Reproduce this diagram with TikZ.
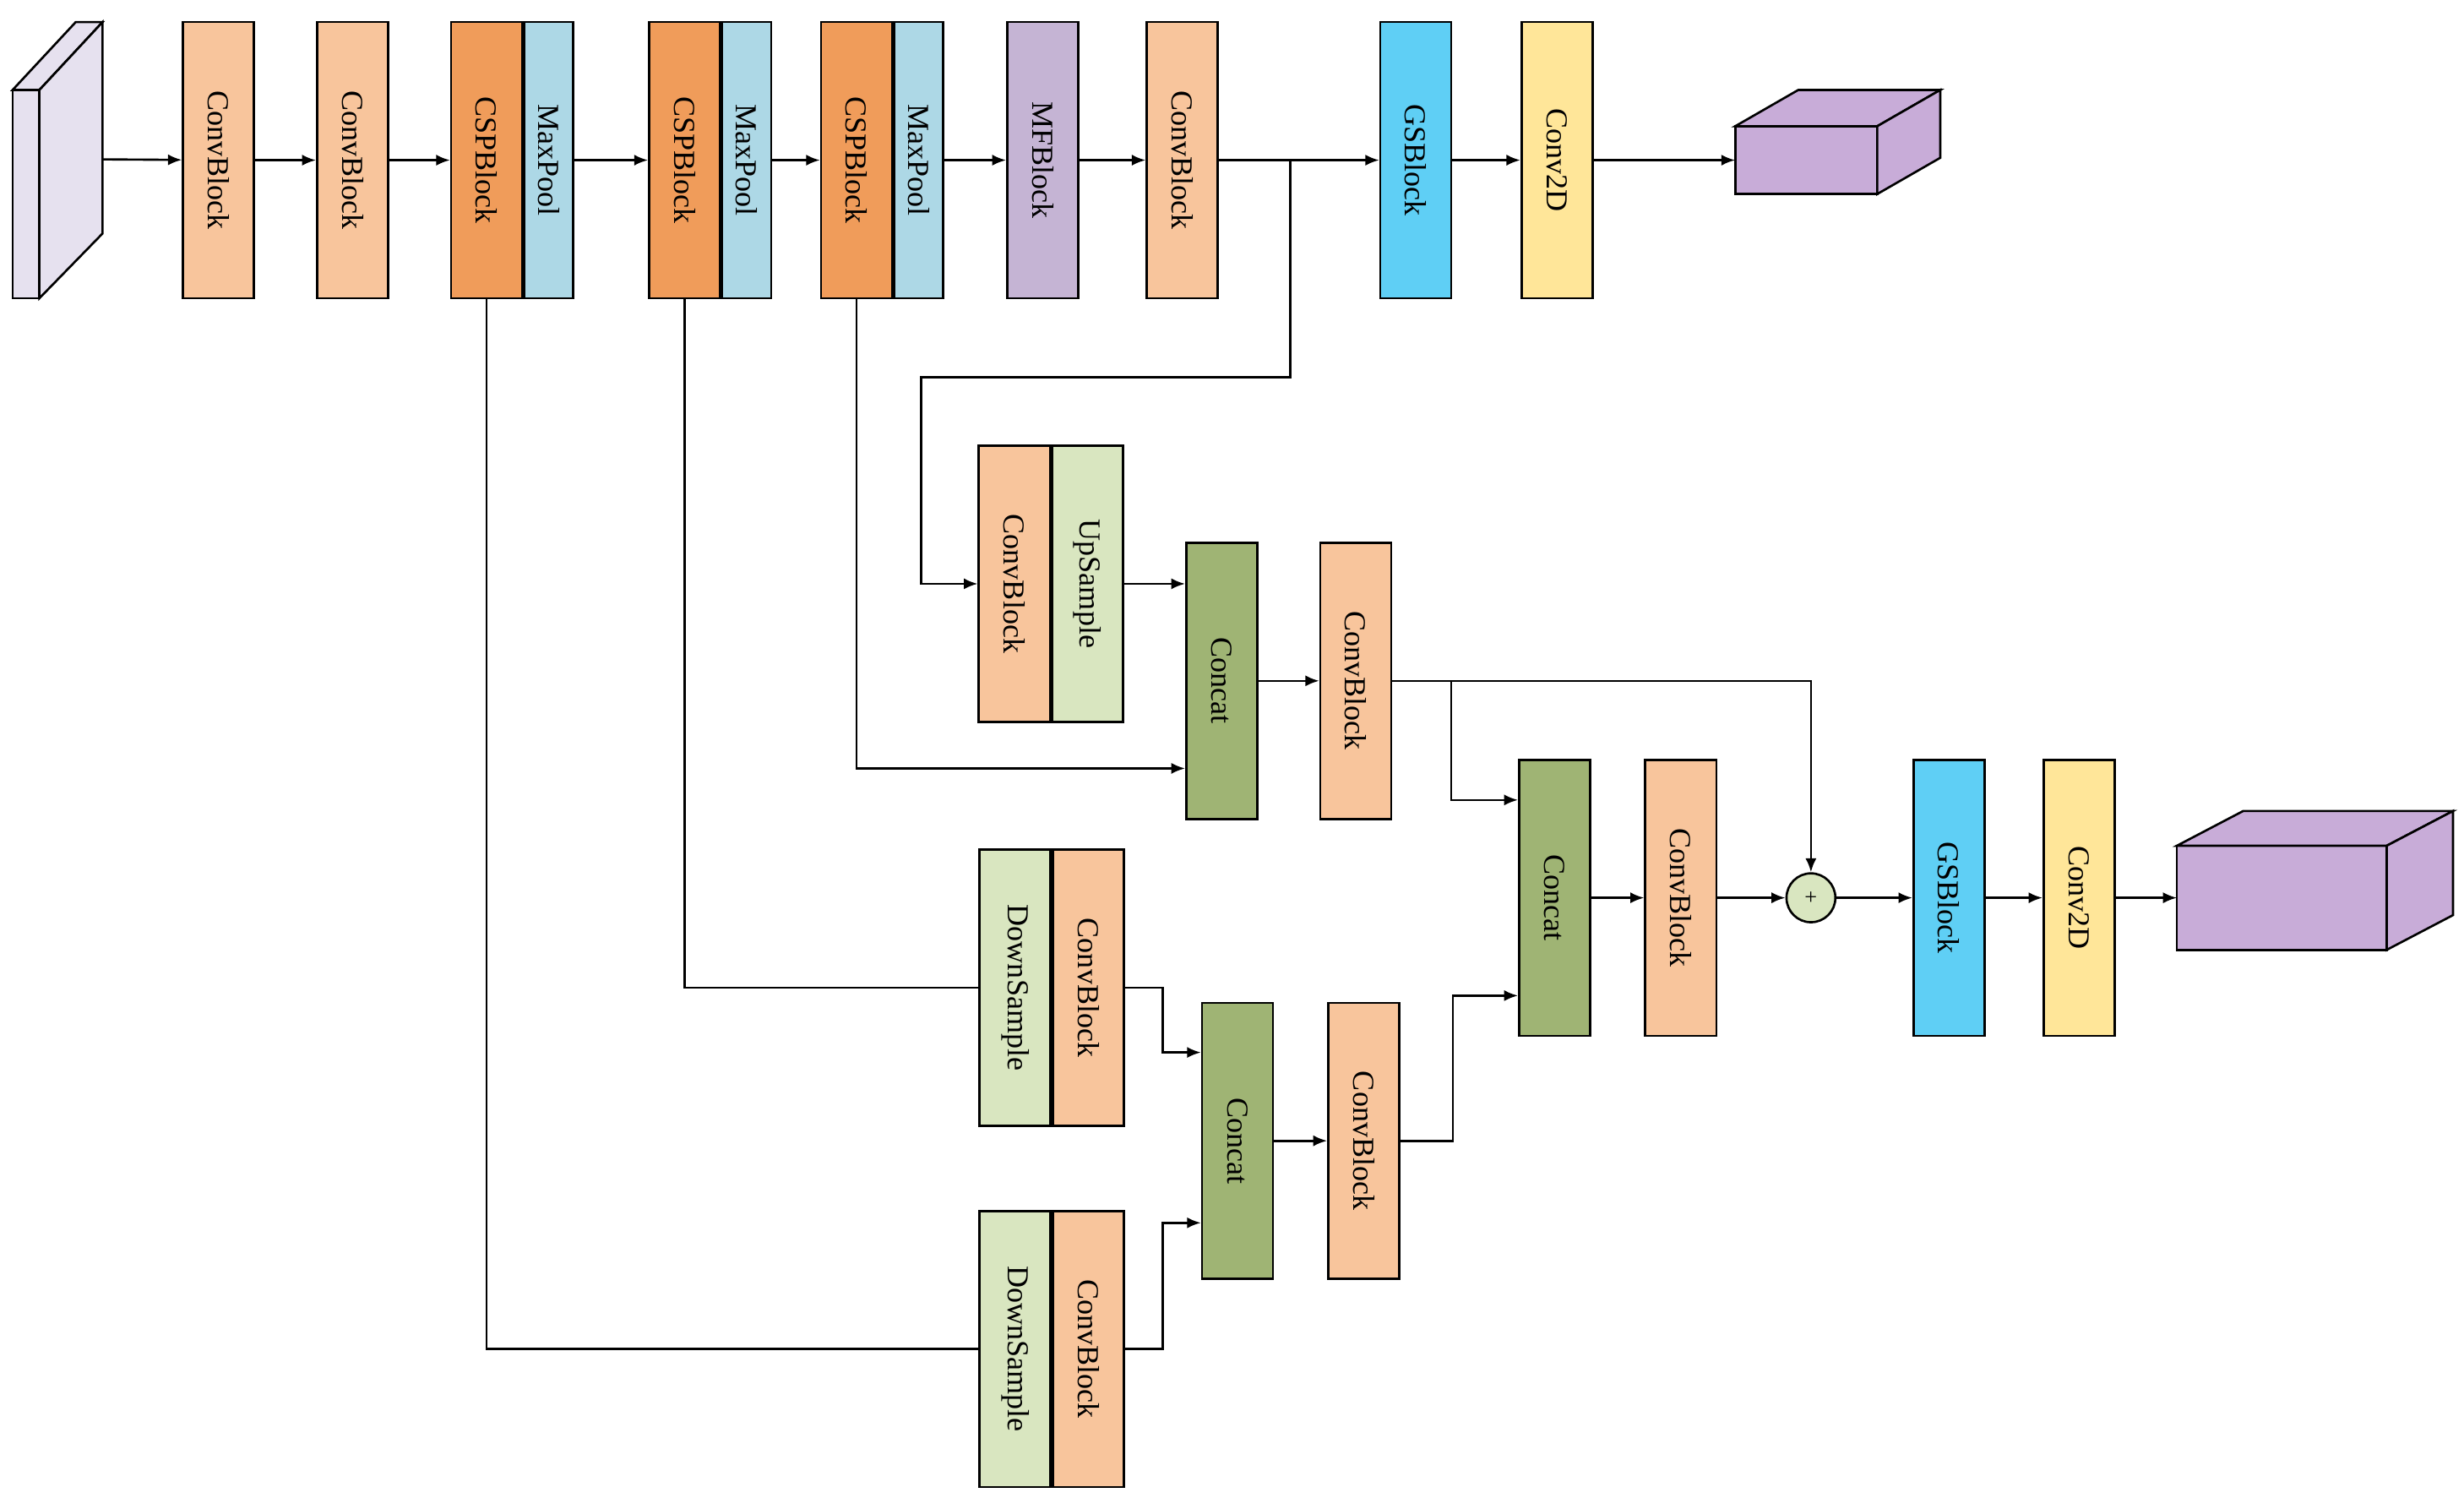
\documentclass[tikz,border=0pt]{standalone}
\usepackage{fontspec}
\setmainfont{Liberation Serif}
\usetikzlibrary{arrows.meta}
\definecolor{cpeach}{HTML}{F8C59C}
\definecolor{corange}{HTML}{F09C5A}
\definecolor{cblue}{HTML}{ADD8E6}
\definecolor{cmf}{HTML}{C5B4D4}
\definecolor{cgs}{HTML}{5FCFF5}
\definecolor{cyel}{HTML}{FFE699}
\definecolor{clgreen}{HTML}{D9E6C0}
\definecolor{ccat}{HTML}{9FB474}
\definecolor{cout}{HTML}{C8ACD8}
\definecolor{cin}{HTML}{E6E1EF}
\begin{document}
\begin{tikzpicture}[x=0.02cm,y=-0.02cm,
  blk/.style={draw,line width=0.8pt,minimum width=0.9cm,minimum height=3.5cm,inner sep=0pt,font=\fontsize{11}{13}\selectfont},
  nar/.style={blk,minimum width=0.62cm},
  arr/.style={-{Latex[length=5pt,width=4pt]},line width=0.8pt},
  ln/.style={line width=0.8pt}]
\useasboundingbox (0,0) rectangle (1562,956);
% input slab
\draw[ln,fill=cin] (8,57) -- (25,57) -- (25,189) -- (8,189) -- cycle;
\draw[ln,fill=cin] (8,57) -- (48,14) -- (65,14) -- (25,57) -- cycle;
\draw[ln,fill=cin] (25,57) -- (65,14) -- (65,148) -- (25,189) -- cycle;
\coordinate (in) at (65,101);
% top row
\node[blk,fill=cpeach] (c1) at (138.5,101.5) {\rotatebox{-90}{ConvBlock}};
\node[blk,fill=cpeach] (c2) at (223.5,101.5) {\rotatebox{-90}{ConvBlock}};
\node[blk,fill=corange] (s1) at (308.5,101.5) {\rotatebox{-90}{CSPBlock}};
\node[nar,fill=cblue,anchor=west] (m1) at (s1.east) {\rotatebox{-90}{MaxPool}};
\node[blk,fill=corange] (s2) at (434,101.5) {\rotatebox{-90}{CSPBlock}};
\node[nar,fill=cblue,anchor=west] (m2) at (s2.east) {\rotatebox{-90}{MaxPool}};
\node[blk,fill=corange] (s3) at (543,101.5) {\rotatebox{-90}{CSPBlock}};
\node[nar,fill=cblue,anchor=west] (m3) at (s3.east) {\rotatebox{-90}{MaxPool}};
\node[blk,fill=cmf] (mf) at (661,101.5) {\rotatebox{-90}{MFBlock}};
\node[blk,fill=cpeach] (c3) at (749.5,101.5) {\rotatebox{-90}{ConvBlock}};
\node[blk,fill=cgs] (g1) at (897.5,101.5) {\rotatebox{-90}{GSBlock}};
\node[blk,fill=cyel] (d1) at (987,101.5) {\rotatebox{-90}{Conv2D}};
% output 1
\draw[ln,fill=cout] (1100,80) rectangle (1190,123);
\draw[ln,fill=cout] (1100,80) -- (1140,57) -- (1230,57) -- (1190,80) -- cycle;
\draw[ln,fill=cout] (1190,80) -- (1230,57) -- (1230,100) -- (1190,123) -- cycle;
\coordinate (o1) at (1100,101.5);
\draw[arr] (in) -- (c1);
\draw[arr] (c1) -- (c2);
\draw[arr] (c2) -- (s1);
\draw[arr] (m1) -- (s2);
\draw[arr] (m2) -- (s3);
\draw[arr] (m3) -- (mf);
\draw[arr] (mf) -- (c3);
\draw[arr] (c3) -- (g1);
\draw[arr] (g1) -- (d1);
\draw[arr] (d1) -- (o1);
% mid
\node[blk,fill=cpeach] (c4) at (643,370) {\rotatebox{-90}{ConvBlock}};
\node[blk,fill=clgreen,anchor=west] (u1) at (c4.east) {\rotatebox{-90}{UpSample}};
\node[blk,fill=ccat] (k1) at (774.5,431.5) {\rotatebox{-90}{Concat}};
\node[blk,fill=cpeach] (c5) at (859.5,431.5) {\rotatebox{-90}{ConvBlock}};
\coordinate (b1) at (818,101.5);
\draw[arr] (b1) |- (584,239) |- (c4.west);
\draw[arr] (u1.east) -- (k1.west |- u1.east);
\draw[arr] (s3.south) |- (k1.west |- 0,487);
\draw[arr] (k1) -- (c5);
\node[blk,fill=ccat] (k2) at (985.5,569) {\rotatebox{-90}{Concat}};
\node[blk,fill=cpeach] (c6) at (1065.5,569) {\rotatebox{-90}{ConvBlock}};
\node[draw,circle,fill=clgreen,minimum size=0.62cm,inner sep=0pt,line width=0.8pt,font=\fontsize{8}{9}\selectfont] (p) at (1148,569) {+};
\node[blk,fill=cgs] (g2) at (1235.5,569) {\rotatebox{-90}{GSBlock}};
\node[blk,fill=cyel] (d2) at (1318,569) {\rotatebox{-90}{Conv2D}};
\draw[ln,fill=cout] (1380,536) rectangle (1513,602);
\draw[ln,fill=cout] (1380,536) -- (1422,514) -- (1555,514) -- (1513,536) -- cycle;
\draw[ln,fill=cout] (1513,536) -- (1555,514) -- (1555,580) -- (1513,602) -- cycle;
\coordinate (o2) at (1380,569);
\draw[arr] (c5.east) -| (p.north);
\draw[arr] (920,431.5) |- (k2.west |- 0,507);
\draw[arr] (k2) -- (c6);
\draw[arr] (c6) -- (p);
\draw[arr] (p) -- (g2);
\draw[arr] (g2) -- (d2);
\draw[arr] (d2) -- (o2);
% bottom
\node[blk,fill=clgreen] (ds1) at (643.5,626) {\rotatebox{-90}{DownSample}};
\node[blk,fill=cpeach,anchor=west] (c7) at (ds1.east) {\rotatebox{-90}{ConvBlock}};
\node[blk,fill=clgreen] (ds2) at (643.5,855) {\rotatebox{-90}{DownSample}};
\node[blk,fill=cpeach,anchor=west] (c8) at (ds2.east) {\rotatebox{-90}{ConvBlock}};
\node[blk,fill=ccat] (k3) at (784.5,723) {\rotatebox{-90}{Concat}};
\node[blk,fill=cpeach] (c9) at (864.5,723) {\rotatebox{-90}{ConvBlock}};
\draw[ln] (s2.south) |- (ds1.west);
\draw[ln] (s1.south) |- (ds2.west);
\draw[arr] (c7.east) -- (737,626) |- (k3.west |- 0,667);
\draw[arr] (c8.east) -- (737,855) |- (k3.west |- 0,775);
\draw[arr] (k3) -- (c9);
\draw[arr] (c9.east) -- (921,723) |- (k2.west |- 0,631);
\end{tikzpicture}
\end{document}
